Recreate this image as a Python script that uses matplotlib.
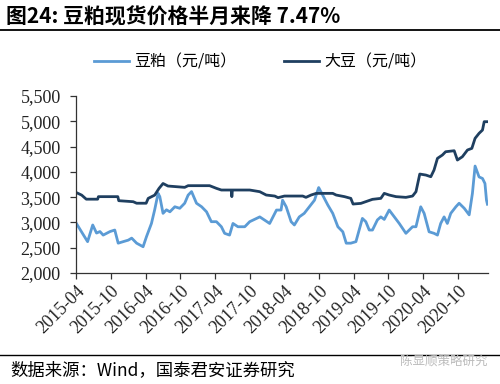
import matplotlib
matplotlib.use("Agg")
import matplotlib.pyplot as plt
import matplotlib.transforms as mtransforms
from matplotlib.ticker import FuncFormatter
import pandas as pd

plt.rcParams['font.family'] = ['Liberation Serif', 'Noto Sans CJK SC', 'DejaVu Sans']

meal_dates = ["2015-04-03", "2015-06-01", "2015-06-28", "2015-07-18", "2015-08-05", "2015-08-22",
              "2015-09-27", "2015-10-22", "2015-11-09", "2015-12-05", "2016-01-01", "2016-01-19",
              "2016-02-14", "2016-03-19", "2016-04-06", "2016-05-02", "2016-05-19", "2016-06-06",
              "2016-06-15", "2016-07-02", "2016-07-20", "2016-08-07", "2016-09-02", "2016-09-28",
              "2016-10-24", "2016-11-11", "2016-11-29", "2016-12-25", "2017-01-21", "2017-02-16",
              "2017-03-13", "2017-04-09", "2017-05-05", "2017-05-22", "2017-06-17", "2017-07-05",
              "2017-07-31", "2017-09-05", "2017-10-01", "2017-11-23", "2018-01-14", "2018-02-19",
              "2018-03-15", "2018-03-23", "2018-04-11", "2018-05-07", "2018-05-24", "2018-06-19",
              "2018-07-15", "2018-08-11", "2018-09-07", "2018-09-29", "2018-10-20", "2018-11-16",
              "2018-12-12", "2019-01-08", "2019-02-03", "2019-02-21", "2019-03-17", "2019-04-13",
              "2019-04-30", "2019-05-17", "2019-06-04", "2019-06-22", "2019-07-09", "2019-08-04",
              "2019-08-22", "2019-09-09", "2019-10-05", "2019-11-01", "2019-11-27", "2020-01-01",
              "2020-02-05", "2020-02-23", "2020-03-19", "2020-04-06", "2020-05-02", "2020-05-28",
              "2020-06-15", "2020-07-02", "2020-07-20", "2020-08-06", "2020-08-24", "2020-09-20",
              "2020-10-07", "2020-11-03", "2020-11-29", "2020-12-16", "2020-12-30", "2021-01-20",
              "2021-02-07", "2021-02-20", "2021-02-28", "2021-03-05"]
meal_values = [2980, 2620, 2950, 2790, 2820, 2750,
               2820, 2850, 2590, 2620, 2650, 2690,
               2590, 2520, 2720, 2980, 3250, 3575,
               3510, 3180, 3250, 3210, 3310, 3280,
               3380, 3540, 3610, 3380, 3310, 3210,
               3015, 3015, 2915, 2785, 2750, 2980,
               2915, 2915, 3015, 3110, 2980, 3245,
               3245, 3440, 3310, 3015, 2950, 3110,
               3180, 3310, 3440, 3690, 3540, 3345,
               3180, 2915, 2815, 2590, 2590, 2620,
               2850, 3080, 3015, 2850, 2850, 3050,
               3110, 3060, 3245, 3110, 2980, 2785,
               2915, 2915, 3310, 3180, 2815, 2785,
               2750, 2980, 3110, 2980, 3180, 3310,
               3380, 3280, 3150, 3575, 4115, 3900,
               3870, 3770, 3440, 3360]

bean_dates = ["2015-04-03", "2015-05-01", "2015-05-25", "2015-07-24", "2015-07-28", "2015-11-07",
              "2015-11-12", "2016-01-27", "2016-02-14", "2016-04-04", "2016-04-15", "2016-05-19",
              "2016-06-11", "2016-07-02", "2016-07-28", "2016-10-24", "2016-11-11", "2017-03-04",
              "2017-04-09", "2017-05-05", "2017-06-17", "2017-06-27", "2017-06-29", "2017-07-02",
              "2017-08-09", "2017-10-01", "2017-11-23", "2017-12-27", "2018-02-10", "2018-02-27",
              "2018-04-02", "2018-07-07", "2018-07-24", "2018-08-20", "2018-09-16", "2018-12-12",
              "2018-12-30", "2019-02-12", "2019-03-17", "2019-03-29", "2019-05-09", "2019-07-09",
              "2019-08-22", "2019-09-09", "2019-10-05", "2019-11-10", "2020-01-01", "2020-02-05",
              "2020-02-23", "2020-03-14", "2020-04-15", "2020-05-11", "2020-05-28", "2020-06-15",
              "2020-07-11", "2020-07-28", "2020-09-11", "2020-09-28", "2020-10-24", "2020-11-20",
              "2020-12-13", "2020-12-30", "2021-01-20", "2021-02-07", "2021-02-16", "2021-03-05"]
bean_values = [3590, 3540, 3460, 3460, 3510, 3510,
               3430, 3410, 3380, 3380, 3476, 3540,
               3674, 3770, 3720, 3694, 3727, 3727,
               3674, 3641, 3641, 3641, 3510, 3641,
               3641, 3641, 3608, 3542, 3522, 3490,
               3522, 3522, 3496, 3542, 3575, 3575,
               3542, 3510, 3476, 3364, 3377, 3457,
               3476, 3575, 3542, 3510, 3496, 3522,
               3608, 3957, 3937, 3904, 4036, 4267,
               4333, 4398, 4418, 4234, 4299, 4432,
               4465, 4663, 4762, 4827, 4992, 4992]

tick_labels = ["2015-04", "2015-10", "2016-04", "2016-10", "2017-04", "2017-10",
               "2018-04", "2018-10", "2019-04", "2019-10", "2020-04", "2020-10"]
meal_label = "豆粕（元/吨）"
bean_label = "大豆（元/吨）"

LIGHT = "#5B9BD5"
DARK = "#1F3F60"

fig = plt.figure(figsize=(5.0, 3.84), dpi=100)
ax = fig.add_axes([0.152, 0.289, 0.824, 0.461])

ax.plot(pd.to_datetime(meal_dates), meal_values, color=LIGHT, lw=2.0, label=meal_label)
ax.plot(pd.to_datetime(bean_dates), bean_values, color=DARK, lw=2.0, label=bean_label)

ax.set_ylim(2000, 5500)
ax.set_yticks(range(2000, 5501, 500))
ax.yaxis.set_major_formatter(FuncFormatter(lambda v, p: f"{int(v):,}"))
ax.set_xlim(pd.Timestamp("2015-04-01"), pd.Timestamp("2021-03-08"))
ax.set_xticks(pd.to_datetime([t + "-01" for t in tick_labels]))
ax.set_xticklabels(tick_labels, rotation=45, ha="right", rotation_mode="anchor")
offset = mtransforms.ScaledTranslation(5 / 100, 0, fig.dpi_scale_trans)
for lbl in ax.get_xticklabels():
    lbl.set_transform(lbl.get_transform() + offset)

for s in ["top", "right"]:
    ax.spines[s].set_visible(False)
for s in ["left", "bottom"]:
    ax.spines[s].set_color("#333333")
    ax.spines[s].set_linewidth(0.9)
ax.tick_params(axis="both", direction="out", length=4, width=0.9, color="#333333",
               labelsize=13, labelcolor="#222222")
ax.tick_params(axis="x", pad=3)
ax.tick_params(axis="y", pad=7)

leg = fig.legend(loc="center", bbox_to_anchor=(0.52, 0.838), ncol=2, frameon=False,
                 handlelength=2.2, columnspacing=3.0, handletextpad=0.3,
                 prop={"family": ["Noto Sans CJK SC", "DejaVu Sans"], "size": 11.5})

fig.text(0.012, 0.955, "图24: 豆粕现货价格半月来降 7.47%", ha="left", va="center",
         fontsize=15, fontweight="bold", family=["Noto Sans CJK SC", "DejaVu Sans"])
fig.add_artist(plt.Line2D([0, 1], [0.922, 0.922], color="black", lw=1.3,
                          transform=fig.transFigure))
fig.add_artist(plt.Line2D([0, 1], [0.075, 0.075], color="black", lw=1.0,
                          transform=fig.transFigure))
fig.text(0.02, 0.035, "数据来源：Wind，国泰君安证券研究", ha="left", va="center",
         fontsize=12.5, family=["Noto Sans CJK SC", "DejaVu Sans"])
fig.text(0.975, 0.058, "陈显顺策略研究", ha="right", va="center", fontsize=9,
         color="#BBBBBB", family=["Noto Sans CJK SC", "DejaVu Sans"])

fig.savefig("out.png", dpi=100)
